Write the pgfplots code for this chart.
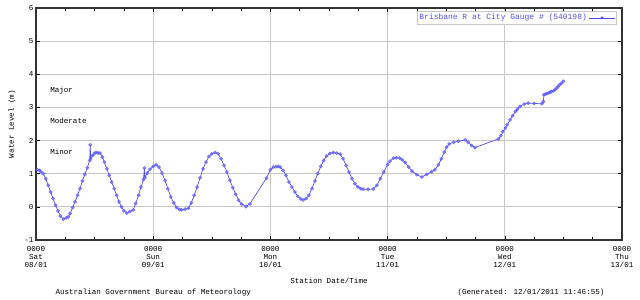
\documentclass[border=0pt]{standalone}
\usepackage{fontspec}
\setmainfont{Liberation Mono}
\usepackage{pgfplots}
\pgfplotsset{compat=1.18}
\definecolor{wl}{RGB}{80,80,255}
\definecolor{wlf}{RGB}{130,130,255}
\definecolor{gridc}{RGB}{200,200,200}
\begin{document}
\begin{tikzpicture}[font=\fontsize{7.6}{8.5}\selectfont]
\begin{axis}[
  scale only axis, width=586bp, height=232bp,
  xmin=0, xmax=120, ymin=-1, ymax=6,
  xtick={0,24,48,72,96,120},
  xticklabels={{0000\\Sat\\08/01},{0000\\Sun\\09/01},{0000\\Mon\\10/01},{0000\\Tue\\11/01},{0000\\Wed\\12/01},{0000\\Thu\\13/01}},
  xticklabel style={align=center, font=\fontsize{7.6}{8.2}\selectfont, yshift=-3bp},
  minor xtick={6,12,18,30,36,42,54,60,66,78,84,90,102,108,114},
  ytick={-1,0,1,2,3,4,5,6},
  yticklabel style={font=\fontsize{7.6}{8.5}\selectfont, xshift=1bp},
  /pgf/number format/assume math mode=true,
  tick align=inside,
  major tick length=4bp, minor tick length=3bp,
  tick style={black, line width=0.6bp},
  grid=major,
  major grid style={gridc, line width=1bp},
  axis line style={black!80, line width=1.2bp},
  xlabel={Station Date/Time},
  xlabel style={yshift=-3bp},
  ylabel={Water Level (m)},
  ylabel style={yshift=2bp},
  legend style={at={(0.99,0.985)}, anchor=north east, draw=gridc, text=wl,
    font=\fontsize{8}{8.5}\selectfont, inner sep=0.5bp, row sep=0pt,
    legend cell align=left},
  legend plot pos=right,
  legend image code/.code={\draw[wl, line width=0.6bp] (0bp,0bp) -- (26bp,0bp); \fill[wl] (13bp,0bp) circle (1bp);},
]
\node[anchor=west] at (axis cs:2.2,3.5) {Major};
\node[anchor=west] at (axis cs:2.2,2.6) {Moderate};
\node[anchor=west] at (axis cs:2.2,1.65) {Minor};
\addplot[wl, line width=0.7bp, mark=*, mark size=1.5bp,
  mark options={draw=none, fill=wlf, opacity=0.7}] coordinates {
(0.3,1.12)(0.7,1.10)(1.0,1.06)(1.5,1.00)(2.0,0.85)(2.5,0.65)(3.0,0.45)(3.5,0.25)
(4.0,0.05)(4.5,-0.12)(5.0,-0.28)(5.6,-0.37)(6.2,-0.33)(6.6,-0.30)(7.0,-0.20)
(7.5,-0.02)(8.0,0.15)(8.5,0.35)(9.0,0.55)(9.5,0.78)(10.0,0.98)(10.5,1.18)
(11.0,1.40)(11.1,1.87)(11.2,1.45)(11.6,1.55)(12.0,1.62)(12.3,1.64)(12.7,1.63)(13.1,1.62)
(13.6,1.50)(14.0,1.35)(14.5,1.15)(15.0,0.95)(15.5,0.75)(16.0,0.55)(16.5,0.35)
(17.0,0.15)(17.5,0.00)(18.0,-0.12)(18.6,-0.19)(19.2,-0.14)(19.9,-0.09)(20.4,0.10)
(21.0,0.35)(21.5,0.60)(22.0,0.82)(22.2,1.17)(22.3,0.88)(22.8,1.02)(23.35,1.14)
(24.0,1.22)(24.6,1.27)(25.2,1.20)(25.8,1.02)(26.4,0.80)(27.0,0.55)(27.6,0.30)
(28.2,0.12)(28.8,-0.02)(29.4,-0.08)(29.8,-0.09)(30.5,-0.07)(31.2,-0.04)(31.8,0.12)
(32.4,0.35)(33.0,0.60)(33.6,0.88)(34.2,1.15)(34.8,1.35)(35.4,1.52)(36.0,1.60)
(36.7,1.64)(37.3,1.60)(37.9,1.45)(38.5,1.25)(39.1,1.05)(39.7,0.80)(40.3,0.58)
(40.9,0.38)(41.5,0.20)(42.1,0.08)(43.0,0.01)(43.8,0.09)
(47.2,0.87)(48.0,1.12)(48.6,1.20)(49.1,1.21)(49.6,1.22)(50.0,1.20)(50.6,1.10)(51.2,0.95)
(51.8,0.75)(52.4,0.60)(53.0,0.45)(53.6,0.32)(54.2,0.24)(54.7,0.21)(55.3,0.25)
(55.9,0.35)(56.5,0.55)(57.1,0.78)(57.7,1.00)(58.3,1.22)(58.9,1.40)(59.5,1.53)
(60.2,1.61)(60.9,1.64)(61.6,1.62)(62.3,1.59)(62.9,1.45)(63.5,1.25)(64.1,1.05)
(64.7,0.85)(65.3,0.70)(65.9,0.60)(66.5,0.55)(67.0,0.53)(68.0,0.53)(69.1,0.54)
(69.8,0.65)(70.5,0.85)(71.2,1.05)(72.0,1.28)(72.5,1.38)(73.2,1.47)(73.8,1.48)(74.5,1.47)
(75.0,1.42)(75.6,1.34)(76.3,1.20)(77.0,1.08)(78.0,0.97)(79.0,0.90)(80.0,0.98)
(81.0,1.06)(81.7,1.12)(82.4,1.27)(83.0,1.45)(83.6,1.65)(84.1,1.80)(84.6,1.90)
(85.5,1.95)(86.5,1.98)(87.9,2.02)(88.5,1.95)(89.2,1.85)(89.9,1.79)
(94.7,2.05)(95.2,2.15)(95.6,2.27)(96.1,2.38)(96.5,2.48)(97.1,2.63)(97.6,2.75)
(98.2,2.88)(98.6,2.95)(99.1,3.03)(100.0,3.10)(100.8,3.13)(102.0,3.12)(103.6,3.11)
(103.9,3.18)(104.0,3.38)(104.3,3.40)(104.6,3.42)(105.0,3.44)(105.3,3.46)(105.6,3.48)
(106.0,3.50)(106.3,3.54)(106.6,3.58)(106.9,3.63)(107.2,3.68)(107.6,3.73)(108.0,3.79)
};
\addlegendentry{Brisbane R at City Gauge \# (540198)}
\end{axis}
\node[anchor=base west] at (16bp,-54bp) {Australian Government Bureau of Meteorology};
\node[anchor=base east] at (572bp,-54bp) {(Generated: 12/01/2011 11:46:55)};
\pgfresetboundingbox
\path (-36bp,-60bp) rectangle (604bp,240bp);
\end{tikzpicture}
\end{document}
